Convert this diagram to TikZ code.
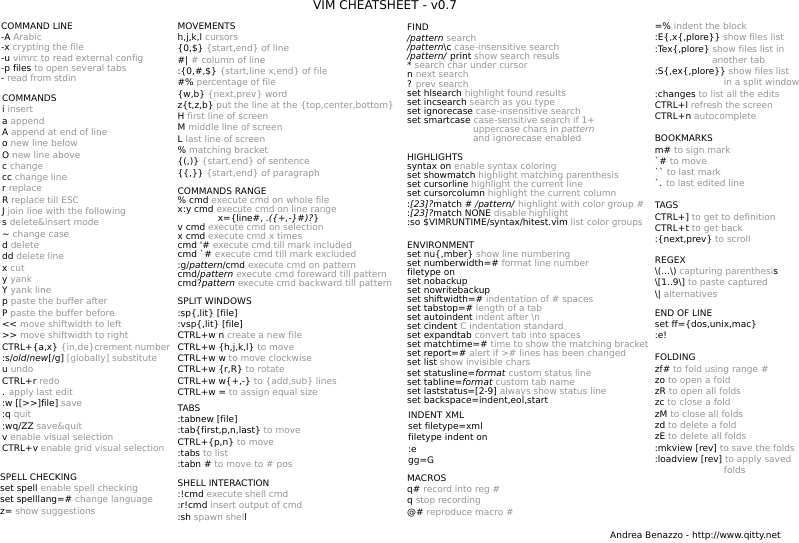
\documentclass[tikz,border=0pt]{standalone}
\usepackage{fontspec}
\usepackage{xcolor}
\newfontfamily\vimfont[Ligatures=NoCommon]{DejaVu Sans}
\definecolor{descgray}{gray}{0.58}
\newcommand{\dsc}[1]{\textcolor{descgray}{#1}}
\tikzset{
  textblock/.style={anchor=north west,inner sep=0pt,align=left,
    font=\vimfont\fontsize{9}{#1}\selectfont,
    execute at begin node=\strut,yshift={0.7*#1-3.3}},
  textblock/.default=11.3
}
\begin{document}
\begin{tikzpicture}[x=1pt,y=-1pt]
\useasboundingbox (0,0) rectangle (799,542);
\node[anchor=west,inner sep=0pt,font=\vimfont\fontsize{12.1}{14}\selectfont] (title) at (313,5) {VIM CHEATSHEET - v0.7};
\node[anchor=west,inner sep=0pt,font=\vimfont\fontsize{9}{11}\selectfont] (footer) at (610,536.5) {Andrea Benazzo - http://www.qitty.net};

\node[textblock=10.4] (cmdline) at (1,27) {COMMAND LINE\\
-A \dsc{Arabic}\\
-x \dsc{crypting the file}\\
-u \dsc{vimrc to read external config}\\
-p files \dsc{to open several tabs}\\
- \dsc{read from stdin}};
\node[textblock] (commands) at (2,99.3) {COMMANDS\\
i \dsc{insert}\\
a \dsc{append}\\
A \dsc{append at end of line}\\
o \dsc{new line below}\\
O \dsc{new line above}\\
c \dsc{change}\\
cc \dsc{change line}\\
r \dsc{replace}\\
R \dsc{replace till ESC}\\
J \dsc{join line with the following}\\
s \dsc{delete\&insert mode}\\
\textasciitilde{} \dsc{change case}\\
d \dsc{delete}\\
dd \dsc{delete line}\\
x \dsc{cut}\\
y \dsc{yank}\\
Y \dsc{yank line}\\
p \dsc{paste the buffer after}\\
P \dsc{paste the buffer before}\\
<{}< \dsc{move shiftwidth to left}\\
>{}> \dsc{move shiftwidth to right}\\
CTRL+\{a,x\} \dsc{\{in,de\}crement number}\\
:s/\textit{old}/\textit{new}[/g] \dsc{[globally] substitute}\\
u \dsc{undo}\\
CTRL+r \dsc{redo}\\
. \dsc{apply last edit}\\
:w [[>{}>]file] \dsc{save}\\
:q \dsc{quit}\\
:wq/ZZ \dsc{save\&quit}\\
v \dsc{enable visual selection}\\
CTRL+v \dsc{enable grid visual selection}};
\node[textblock] (spell) at (0,478) {SPELL CHECKING\\
set spell \dsc{enable spell checking}\\
set spelllang=\# \dsc{change language}\\
z= \dsc{show suggestions}};

\node[textblock] (movements) at (177.5,27) {MOVEMENTS\\
h,j,k,l \dsc{cursors}\\
\{0,\$\} \dsc{\{start,end\} of line}\\
\#| \dsc{\# column of line}\\
:\{0,\#,\$\} \dsc{\{start,line x,end\} of file}\\
\#\% \dsc{percentage of file}\\
\{w,b\} \dsc{\{next,prev\} word}\\
z\{t,z,b\} \dsc{put the line at the \{top,center,bottom\}}\\
H \dsc{first line of screen}\\
M \dsc{middle line of screen}\\
L \dsc{last line of screen}\\
\% \dsc{matching bracket}\\
\{(,)\} \dsc{\{start,end\} of sentence}\\
\{\{,\}\} \dsc{\{start,end\} of paragraph}};
\node[textblock=9.05] (cmdrange) at (177.5,190.7) {COMMANDS RANGE\\
\% cmd \dsc{execute cmd on whole file}\\
x:y cmd \dsc{execute cmd on line range}\\
\hspace*{40.2pt}x=\{line\#, \textit{.(\{+,-\}\#)?}\}\\
v cmd \dsc{execute cmd on selection}\\
x cmd \dsc{execute cmd x times}\\
cmd '\# \dsc{execute cmd till mark included}\\
cmd `\# \dsc{execute cmd till mark excluded}\\[1.8pt]
:g/\textit{pattern}/cmd \dsc{execute cmd on pattern}\\
cmd/\textit{pattern} \dsc{execute cmd foreward till pattern}\\
cmd?\textit{pattern} \dsc{execute cmd backward till pattern}};
\node[textblock] (split) at (177.5,302.7) {SPLIT WINDOWS\\
:sp\{,lit\} [file]\\
:vsp\{,lit\} [file]\\
CTRL+w n \dsc{create a new file}\\
CTRL+w \{h,j,k,l\} \dsc{to move}\\
CTRL+w w \dsc{to move clockwise}\\
CTRL+w \{r,R\} \dsc{to rotate}\\
CTRL+w w\{+,-\} \dsc{to \{add,sub\} lines}\\
CTRL+w = \dsc{to assign equal size}};
\node[textblock] (tabs) at (177.5,409) {TABS\\
:tabnew [file]\\
:tab\{first,p,n,last\} \dsc{to move}\\
CTRL+\{p,n\} \dsc{to move}\\
:tabs \dsc{to list}\\
:tabn \# \dsc{to move to \# pos}};
\node[textblock] (shell) at (177.5,484) {SHELL INTERACTION\\
:!cmd \dsc{execute shell cmd}\\
:r!cmd \dsc{insert output of cmd}\\
:sh \dsc{spawn shel}l};

\node[textblock=9.05] (find) at (407,27) {FIND\\[2pt]
\textit{/pattern} \dsc{search}\\
\textit{/pattern}\textbackslash c \dsc{case-insensitive search}\\
\textit{/pattern/} print \dsc{show search resuls}\\
* \dsc{search char under cursor}\\
n \dsc{next search}\\
? \dsc{prev search}\\
set hlsearch \dsc{highlight found results}\\
set incsearch \dsc{search as you type}\\
set ignorecase \dsc{case-insensitive search}\\
set smartcase \dsc{case-sensitive search if 1+}\\
\hspace*{66pt}\dsc{uppercase chars in \textit{pattern}}\\
\hspace*{66pt}\dsc{and ignorecase enabled}};
\node[textblock=9.05] (highlights) at (407,156.3) {HIGHLIGHTS\\
syntax on \dsc{enable syntax coloring}\\
set showmatch \dsc{highlight matching parenthesis}\\
set cursorline \dsc{highlight the current line}\\
set cursorcolumn \dsc{highlight the current column}\\[1.8pt]
:\textit{[23]?}match \# \textit{/pattern/} \dsc{highlight with color group \#}\\
:\textit{[23]?}match NONE \dsc{disable highlight}\\
:so \$VIMRUNTIME/syntax/hitest.vim \dsc{list color groups}};
\node[textblock=9.05] (environment) at (407,244.3) {ENVIRONMENT\\
set nu\{,mber\} \dsc{show line numbering}\\
set numberwidth=\# \dsc{format line number}\\
filetype on\\
set nobackup\\
set nowritebackup\\
set shiftwidth=\# \dsc{indentation of \# spaces}\\
set tabstop=\# \dsc{length of a tab}\\
set autoindent \dsc{indent after \textbackslash n}\\
set cindent \dsc{C indentation standard}\\
set expandtab \dsc{convert tab into spaces}\\
set matchtime=\# \dsc{time to show the matching bracket}\\
set report=\# \dsc{alert if >\# lines has been changed}\\
set list \dsc{show invisible chars}\\[1.8pt]
set statusline=\textit{format} \dsc{custom status line}\\
set tabline=\textit{format} \dsc{custom tab name}\\
set laststatus=[2-9] \dsc{always show status line}\\
set backspace=indent,eol,start};
\node[textblock=11.4] (indentxml) at (408,416) {INDENT XML\\
set filetype=xml\\
filetype indent on\\
:e\\
gg=G};
\node[textblock] (macros) at (407,479) {MACROS\\
q\# \dsc{record into reg \#}\\
q \dsc{stop recording}\\
@\# \dsc{reproduce macro \#}};

\node[textblock] (indent) at (654.7,27) {=\% \dsc{indent the block}\\
:E\{,x\{,plore\}\} \dsc{show files list}\\
:Tex\{,plore\} \dsc{show files list in}\\
\hspace*{57.3pt}\dsc{another tab}\\
:S\{,ex\{,plore\}\} \dsc{show files list}\\
\hspace*{69pt}\dsc{in a split window}\\
:changes \dsc{to list all the edits}\\
CTRL+l \dsc{refresh the screen}\\
CTRL+n \dsc{autocomplete}};
\node[textblock] (bookmarks) at (654.7,139.5) {BOOKMARKS\\
m\# \dsc{to sign mark}\\
`\# \dsc{to move}\\
`{}` \dsc{to last mark}\\
`. \dsc{to last edited line}};
\node[textblock] (tags) at (654.7,206.5) {TAGS\\
CTRL+] \dsc{to get to definition}\\
CTRL+t \dsc{to get back}\\
:\{next,prev\} \dsc{to scroll}};
\node[textblock] (regex) at (654.7,261) {REGEX\\
\textbackslash(...\textbackslash) \dsc{capturing parenthesi}s\\
\textbackslash[1..9\textbackslash] \dsc{to paste captured}\\
\textbackslash| \dsc{alternatives}};
\node[textblock] (endofline) at (654.7,314) {END OF LINE\\
set ff=\{dos,unix,mac\}\\
:e!};
\node[textblock] (folding) at (654.7,358.5) {FOLDING\\
zf\# \dsc{to fold using range \#}\\
zo \dsc{to open a fold}\\
zR \dsc{to open all folds}\\
zc \dsc{to close a fold}\\
zM \dsc{to close all folds}\\
zd \dsc{to delete a fold}\\
zE \dsc{to delete all folds}\\
:mkview [rev] \dsc{to save the folds}\\
:loadview [rev] \dsc{to apply saved}\\
\hspace*{69pt}\dsc{folds}};
\end{tikzpicture}
\end{document}
